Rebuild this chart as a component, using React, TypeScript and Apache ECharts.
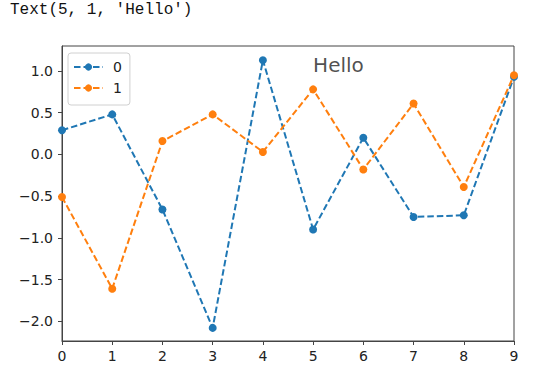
import React, { useEffect, useRef } from "react";
import * as echarts from "echarts";

const xValues = [0, 1, 2, 3, 4, 5, 6, 7, 8, 9];
const series0 = [0.29, 0.48, -0.66, -2.08, 1.13, -0.9, 0.2, -0.75, -0.73, 0.93];
const series1 = [-0.51, -1.61, 0.16, 0.48, 0.03, 0.78, -0.18, 0.61, -0.39, 0.95];
const seriesNames = ["0", "1"];
const yTicks = [-2.0, -1.5, -1.0, -0.5, 0.0, 0.5, 1.0];
const xTicks = [0, 1, 2, 3, 4, 5, 6, 7, 8, 9];
const annotation = { x: 5, y: 1, text: "Hello" };
const headerText = "Text(5, 1, 'Hello')";

const fmt = (v: number) => v.toFixed(1).replace("-", "\u2212");

export default function App() {
  const ref = useRef<HTMLDivElement>(null);
  useEffect(() => {
    if (!ref.current) return;
    const chart = echarts.init(ref.current, undefined, { renderer: "svg" });
    const colors = ["#1f77b4", "#ff7f0e"];
    const lineSeries = [series0, series1].map((vals, i) => ({
      name: seriesNames[i],
      type: "line",
      data: vals.map((v, j) => [xValues[j], v]),
      symbol: "circle",
      symbolSize: 8,
      itemStyle: { color: colors[i] },
      lineStyle: { color: colors[i], width: 2, type: [6.5, 3] },
      z: 2 + i,
    }));
    chart.setOption({
      animation: false,
      textStyle: { fontFamily: "DejaVu Sans" },
      grid: {
        left: 62,
        top: 46,
        right: 46,
        bottom: 42,
        show: true,
        borderColor: "#444",
        borderWidth: 1,
        backgroundColor: "transparent",
      },
      legend: {
        data: seriesNames,
        orient: "vertical",
        left: 68,
        top: 53,
        itemWidth: 29,
        itemHeight: 9,
        itemGap: 7,
        padding: [7, 8, 10, 5],
        borderColor: "#d0d0d0",
        borderWidth: 1,
        borderRadius: 3,
        backgroundColor: "#fff",
        textStyle: { fontSize: 14, color: "#222", padding: [0, 0, 0, 5], fontFamily: "DejaVu Sans" },
      },
      xAxis: {
        type: "value",
        min: 0,
        max: 9,
        interval: 1,
        splitLine: { show: false },
        axisLine: { show: true, onZero: false, lineStyle: { color: "#444", width: 1 } },
        axisTick: { show: true, length: 4, lineStyle: { color: "#444" } },
        axisLabel: {
          fontSize: 14,
          color: "#222",
          margin: 8,
          customValues: xTicks,
          fontFamily: "DejaVu Sans",
        },
      },
      yAxis: {
        type: "value",
        min: -2.237,
        max: 1.3,
        splitLine: { show: false },
        axisLine: { show: true, onZero: false, lineStyle: { color: "#444", width: 1 } },
        axisTick: { show: true, length: 4, lineStyle: { color: "#444" }, customValues: yTicks },
        axisLabel: {
          fontSize: 14,
          color: "#222",
          margin: 9,
          customValues: yTicks,
          formatter: (v: number) => fmt(v),
          fontFamily: "DejaVu Sans",
        },
      },
      graphic: [
        {
          type: "text",
          left: 10,
          top: 2,
          style: {
            text: headerText,
            font: "16px 'Liberation Mono', monospace",
            fill: "#111",
          },
        },
      ],
      series: [
        ...lineSeries,
        {
          name: "annotation",
          type: "scatter",
          data: [[annotation.x, annotation.y]],
          symbolSize: 0,
          silent: true,
          z: 5,
          label: {
            show: true,
            formatter: annotation.text,
            position: [0, 4],
            align: "left",
            verticalAlign: "bottom",
            fontSize: 20,
            color: "#222",
            fontFamily: "DejaVu Sans",
          },
        },
      ],
    });
    return () => chart.dispose();
  }, []);
  return (
    <div
      ref={ref}
      style={{ position: "absolute", left: 0, top: 0, width: 560, height: 383, background: "#fff" }}
    />
  );
}
